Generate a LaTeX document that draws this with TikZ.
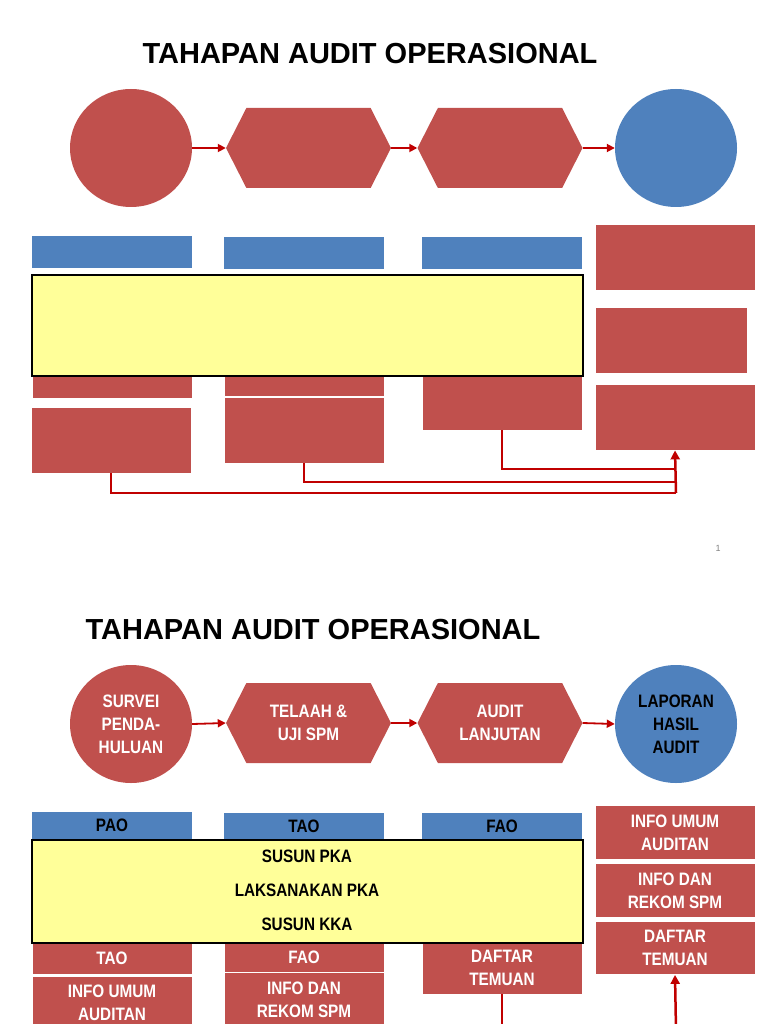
\documentclass[tikz,border=0pt]{standalone}
\usepackage{fontspec}
\setmainfont{Liberation Sans}
\newfontfamily\narrowf[FakeStretch=0.85]{Liberation Sans}
\usetikzlibrary{shapes.symbols,arrows.meta}
\definecolor{rd}{HTML}{C0504D}
\definecolor{bl}{HTML}{4F81BD}
\definecolor{yl}{HTML}{FFFF99}
\definecolor{ln}{HTML}{C00000}
\tikzset{
 box/.style={rectangle,inner sep=0,draw=none,align=center,text=white,font=\narrowf\bfseries\fontsize{18}{23}\selectfont},
 rbox/.style={box,fill=rd,draw=white,line width=0.8pt},
 bbox/.style={box,fill=bl,text=black},
 ybox/.style={rectangle,inner sep=0,fill=yl,draw=black,line width=2pt},
 circ/.style={ellipse,inner sep=0,fill=rd,minimum width=122pt,minimum height=118pt,align=center,text=white,font=\narrowf\bfseries\fontsize{18}{23}\selectfont},
 hex/.style={signal,signal to=east and west,signal pointer angle=126,inner sep=0,fill=rd,minimum width=165pt,minimum height=80pt,align=center,text=white,font=\narrowf\bfseries\fontsize{18}{23}\selectfont},
 flow/.style={draw=ln,line width=1.8pt,-{Triangle[length=8pt,width=8pt]}},
 conn/.style={draw=ln,line width=2.5pt},
 ttl/.style={font=\bfseries\fontsize{29}{32}\selectfont},
 ytxt/.style={font=\narrowf\bfseries\fontsize{18}{22}\selectfont}
}
\usetikzlibrary{shapes.geometric}
\begin{document}
\begin{tikzpicture}[x=1pt,y=-1pt]
\useasboundingbox (0,0) rectangle (768,1024);
\clip (0,0) rectangle (768,1024);
% ---------- slide 1 ----------
\node[ttl] (t1) at (370,54) {TAHAPAN AUDIT OPERASIONAL};
\node[circ] (a1) at (131,148) {};
\node[hex] (a2) at (308.5,148) {};
\node[hex] (a3) at (500,148) {};
\node[circ,fill=bl] (a4) at (676,148) {};
\draw[flow] (a1.east) -- (a2.west);
\draw[flow] (a2.east) -- (a3.west);
\draw[flow] (a3.east) -- (a4.west);
\node[bbox,minimum width=160pt,minimum height=32pt] (b1) at (112,252) {};
\node[bbox,minimum width=160pt,minimum height=32pt] (b2) at (304,253) {};
\node[bbox,minimum width=160pt,minimum height=32pt] (b3) at (502,253) {};
\node[rbox,minimum width=160pt,minimum height=40pt] (c1) at (112,378) {};
\node[rbox,minimum width=160pt,minimum height=66pt] (c1b) at (111,440) {};
\node[rbox,minimum width=160pt,minimum height=38pt] (c2) at (304,377) {};
\node[rbox,minimum width=160pt,minimum height=66pt] (c2b) at (304,430) {};
\node[rbox,minimum width=160pt,minimum height=74pt] (c3) at (502,393) {};
\node[ybox,minimum width=551pt,minimum height=101pt] (y1) at (307.5,325.5) {};
\node[rbox,minimum width=160pt,minimum height=66pt] (r1) at (675,257) {};
\node[rbox,minimum width=152pt,minimum height=66pt] (r2) at (671,340) {};
\node[rbox,minimum width=160pt,minimum height=66pt] (r3) at (675,417) {};
\draw[conn] (c3.south) |- (676,469);
\draw[conn] (c2b.south) |- (676,482);
\draw[conn] (c1b.south) |- (676,493);
\draw[conn,-{Triangle[length=9pt,width=9pt]}] (676,493) -- (r3.south);
\node[text=gray,font=\fontsize{9}{10}\selectfont] (pn) at (718,548) {1};
% ---------- slide 2 ----------
\node[ttl] (t2) at (313,630) {TAHAPAN AUDIT OPERASIONAL};
\node[circ] (d1) at (131,724) {SURVEI\\PENDA-\\HULUAN};
\node[hex] (d2) at (308.5,723) {TELAAH \&\\UJI SPM};
\node[hex] (d3) at (500,723) {AUDIT\\LANJUTAN};
\node[circ,fill=bl,text=black] (d4) at (676,724) {LAPORAN\\HASIL\\AUDIT};
\draw[flow] (d1.east) -- (d2.west);
\draw[flow] (d2.east) -- (d3.west);
\draw[flow] (d3.east) -- (d4.west);
\node[bbox,minimum width=160pt,minimum height=28pt,anchor=north] (e1) at (112,812) {\raisebox{2pt}{PAO}};
\node[bbox,minimum width=160pt,minimum height=28pt,anchor=north] (e2) at (304,813) {\raisebox{1pt}{TAO}};
\node[bbox,minimum width=160pt,minimum height=28pt,anchor=north] (e3) at (502,813) {\raisebox{1pt}{FAO}};
\node[rbox,minimum width=160pt,minimum height=32pt] (f1) at (112,958.5) {TAO};
\node[rbox,minimum width=160pt,minimum height=54pt] (f1b) at (112,1003) {INFO UMUM\\AUDITAN};
\node[rbox,minimum width=160pt,minimum height=30pt] (f2) at (304,957.5) {FAO};
\node[rbox,minimum width=160pt,minimum height=54pt] (f2b) at (304,999.5) {INFO DAN\\REKOM SPM};
\node[rbox,minimum width=160pt,minimum height=52pt] (f3) at (502,968) {DAFTAR\\TEMUAN};
\node[ybox,minimum width=551pt,minimum height=103pt] (y2) at (307.5,891.5) {};
\node[ytxt] (s1) at (307,856) {SUSUN PKA};
\node[ytxt] (s2) at (307,890) {LAKSANAKAN PKA};
\node[ytxt] (s3) at (307,924) {SUSUN KKA};
\node[rbox,minimum width=160pt,minimum height=54pt] (g1) at (675,832.5) {INFO UMUM\\AUDITAN};
\node[rbox,minimum width=160pt,minimum height=54pt] (g2) at (675,890.5) {INFO DAN\\REKOM SPM};
\node[rbox,minimum width=160pt,minimum height=53pt] (g3) at (675,948) {DAFTAR\\TEMUAN};
\coordinate (q1) at (502,1030);
\coordinate (q2) at (676,1030);
\draw[conn] (f3.south) -- (q1);
\draw[conn,-{Triangle[length=9pt,width=9pt]}] (q2) -- (g3.south);
\end{tikzpicture}
\end{document}
